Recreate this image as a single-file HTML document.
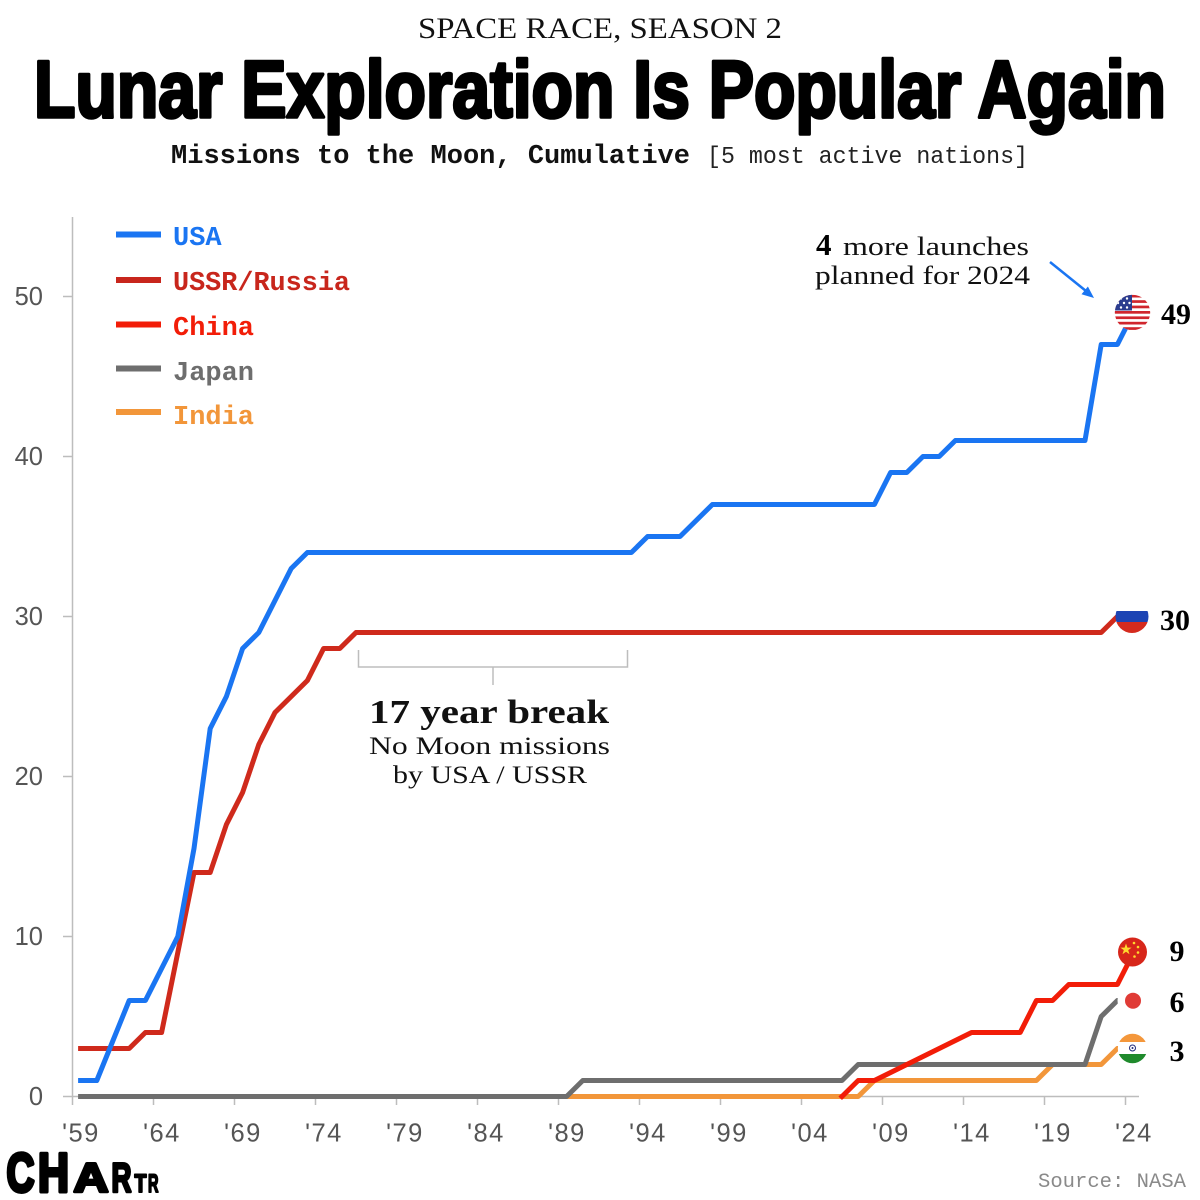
<!DOCTYPE html>
<html>
<head>
<meta charset="utf-8">
<style>
html,body{margin:0;padding:0;background:#fff;}
svg{display:block;}
</style>
</head>
<body>
<svg width="1200" height="1200" viewBox="0 0 1200 1200" xmlns="http://www.w3.org/2000/svg">
<rect width="1200" height="1200" fill="#fff"/>

<!-- Header -->
<text x="418" y="38" font-family="Liberation Serif, serif" font-size="30" fill="#111" textLength="364" lengthAdjust="spacingAndGlyphs">SPACE RACE, SEASON 2</text>
<text x="34" y="117" font-family="Liberation Sans, sans-serif" font-weight="bold" font-size="81" fill="#000" stroke="#000" stroke-width="3.6" stroke-linejoin="round" textLength="1132" lengthAdjust="spacingAndGlyphs">Lunar Exploration Is Popular Again</text>
<text x="171" y="163" font-family="Liberation Mono, monospace" font-weight="bold" font-size="27" fill="#111" textLength="519" lengthAdjust="spacingAndGlyphs">Missions to the Moon, Cumulative</text>
<text x="707" y="163" font-family="Liberation Mono, monospace" font-size="24" fill="#222" textLength="321" lengthAdjust="spacingAndGlyphs">[5 most active nations]</text>

<!-- Axes -->
<g stroke="#bdbdbd" stroke-width="1.5" fill="none">
<line x1="72.5" y1="217" x2="72.5" y2="1105"/>
<line x1="72.5" y1="1096.5" x2="1139" y2="1096.5"/>
<line x1="63" y1="1096.5" x2="72.5" y2="1096.5"/>
<line x1="63" y1="936.5" x2="72.5" y2="936.5"/>
<line x1="63" y1="776.5" x2="72.5" y2="776.5"/>
<line x1="63" y1="616.5" x2="72.5" y2="616.5"/>
<line x1="63" y1="456.5" x2="72.5" y2="456.5"/>
<line x1="63" y1="296.5" x2="72.5" y2="296.5"/>
<line x1="153.5" y1="1096.5" x2="153.5" y2="1105"/>
<line x1="234.5" y1="1096.5" x2="234.5" y2="1105"/>
<line x1="315.5" y1="1096.5" x2="315.5" y2="1105"/>
<line x1="396.5" y1="1096.5" x2="396.5" y2="1105"/>
<line x1="477.5" y1="1096.5" x2="477.5" y2="1105"/>
<line x1="558.5" y1="1096.5" x2="558.5" y2="1105"/>
<line x1="639.5" y1="1096.5" x2="639.5" y2="1105"/>
<line x1="720.5" y1="1096.5" x2="720.5" y2="1105"/>
<line x1="801.5" y1="1096.5" x2="801.5" y2="1105"/>
<line x1="882.5" y1="1096.5" x2="882.5" y2="1105"/>
<line x1="963.5" y1="1096.5" x2="963.5" y2="1105"/>
<line x1="1044.5" y1="1096.5" x2="1044.5" y2="1105"/>
<line x1="1125.5" y1="1096.5" x2="1125.5" y2="1105"/>
</g>

<!-- Y labels -->
<g font-family="Liberation Sans, sans-serif" font-size="25.5" fill="#555" text-anchor="end">
<text x="43" y="1105">0</text>
<text x="43" y="945">10</text>
<text x="43" y="785">20</text>
<text x="43" y="625">30</text>
<text x="43" y="465">40</text>
<text x="43" y="305">50</text>
</g>

<!-- X labels -->
<g font-family="Liberation Sans, sans-serif" font-size="25.5" fill="#555" text-anchor="middle" letter-spacing="1.5">
<text x="81" y="1141.5">'59</text>
<text x="162" y="1141.5">'64</text>
<text x="243" y="1141.5">'69</text>
<text x="324" y="1141.5">'74</text>
<text x="405" y="1141.5">'79</text>
<text x="486" y="1141.5">'84</text>
<text x="567" y="1141.5">'89</text>
<text x="648" y="1141.5">'94</text>
<text x="729" y="1141.5">'99</text>
<text x="810" y="1141.5">'04</text>
<text x="891" y="1141.5">'09</text>
<text x="972" y="1141.5">'14</text>
<text x="1053" y="1141.5">'19</text>
<text x="1134" y="1141.5">'24</text>
</g>

<!-- Legend -->
<g stroke-width="6">
<line x1="116" y1="234.5" x2="161" y2="234.5" stroke="#1a75f2"/>
<line x1="116" y1="280" x2="161" y2="280" stroke="#c8261c"/>
<line x1="116" y1="324.5" x2="161" y2="324.5" stroke="#f21d08"/>
<line x1="116" y1="368.5" x2="161" y2="368.5" stroke="#6e6e6e"/>
<line x1="116" y1="412" x2="161" y2="412" stroke="#f2963a"/>
</g>
<g font-family="Liberation Mono, monospace" font-weight="bold" font-size="27">
<text x="173" y="245" fill="#1a75f2">USA</text>
<text x="173" y="290" fill="#c8261c" textLength="177" lengthAdjust="spacingAndGlyphs">USSR/Russia</text>
<text x="173" y="335" fill="#f21d08">China</text>
<text x="173" y="380" fill="#6e6e6e">Japan</text>
<text x="173" y="424" fill="#f2963a">India</text>
</g>

<!-- Series -->
<g fill="none" stroke-width="5" stroke-linejoin="round" stroke-linecap="square">
<path stroke="#f2963a" d="M566.6,1096.5 L858.2,1096.5 L874.4,1080.5 L1036.4,1080.5 L1052.6,1064.5 L1101.2,1064.5 L1117.4,1048.5 L1133.6,1048.5"/>
<path stroke="#6e6e6e" d="M80.6,1096.5 L566.6,1096.5 L582.8,1080.5 L842,1080.5 L858.2,1064.5 L1085,1064.5 L1101.2,1016.5 L1117.4,1000.5 L1133.6,1000.5"/>
<path stroke="#f21d08" d="M842,1096.5 L858.2,1080.5 L874.4,1080.5 L971.6,1032.5 L1020.2,1032.5 L1036.4,1000.5 L1052.6,1000.5 L1068.8,984.5 L1117.4,984.5 L1133.6,952.5"/>
<path stroke="#cf2a1c" d="M80.6,1048.5 L129.2,1048.5 L145.4,1032.5 L161.6,1032.5 L177.8,952.5 L194,872.5 L210.2,872.5 L226.4,824.5 L242.6,792.5 L258.8,744.5 L275,712.5 L291.2,696.5 L307.4,680.5 L323.6,648.5 L339.8,648.5 L356,632.5 L1101.2,632.5 L1117.4,616.5 L1133.6,616.5"/>
<path stroke="#1a75f2" d="M80.6,1080.5 L96.8,1080.5 L113,1040.5 L129.2,1000.5 L145.4,1000.5 L161.6,968.5 L177.8,936.5 L194,848.5 L210.2,728.5 L226.4,696.5 L242.6,648.5 L258.8,632.5 L275,600.5 L291.2,568.5 L307.4,552.5 L631.4,552.5 L647.6,536.5 L680,536.5 L696.2,520.5 L712.4,504.5 L874.4,504.5 L890.6,472.5 L906.8,472.5 L923,456.5 L939.2,456.5 L955.4,440.5 L1085,440.5 L1101.2,344.5 L1117.4,344.5 L1133.6,312.5"/>
</g>

<defs>
<clipPath id="cUS"><circle cx="1132.5" cy="312.5" r="17.7"/></clipPath>
<clipPath id="cRU"><circle cx="1132" cy="616.5" r="16.5"/></clipPath>
<clipPath id="cIN"><circle cx="1132.5" cy="1048.5" r="14.7"/></clipPath>
</defs>

<!-- USA flag -->
<g clip-path="url(#cUS)">
<rect x="1113" y="294" width="40" height="38" fill="#fff"/>
<rect x="1113" y="294.8" width="40" height="2.7" fill="#d0262d"/>
<rect x="1113" y="300.2" width="40" height="2.7" fill="#d0262d"/>
<rect x="1113" y="305.6" width="40" height="2.7" fill="#d0262d"/>
<rect x="1113" y="311" width="40" height="2.7" fill="#d0262d"/>
<rect x="1113" y="316.4" width="40" height="2.7" fill="#d0262d"/>
<rect x="1113" y="321.8" width="40" height="2.7" fill="#d0262d"/>
<rect x="1113" y="327.2" width="40" height="2.7" fill="#d0262d"/>
<rect x="1113" y="294" width="19" height="16.5" fill="#2b3d8f"/>
<g fill="#fff">
<circle cx="1121" cy="298.5" r="1.2"/><circle cx="1127" cy="298.5" r="1.2"/>
<circle cx="1118" cy="303" r="1.2"/><circle cx="1124" cy="303" r="1.2"/><circle cx="1129.5" cy="303" r="1.2"/>
<circle cx="1121" cy="307.5" r="1.2"/><circle cx="1127" cy="307.5" r="1.2"/>
</g>
</g>

<!-- Russia flag -->
<g clip-path="url(#cRU)">
<rect x="1114" y="599" width="36" height="12" fill="#fff"/>
<rect x="1114" y="611" width="36" height="11" fill="#1c44b4"/>
<rect x="1114" y="622" width="36" height="12" fill="#d52b1e"/>
</g>

<!-- China flag -->
<circle cx="1132.5" cy="952" r="14.5" fill="#d7261a"/>
<polygon fill="#ffd92e" points="1126,943.5 1127.4,947.6 1131.6,947.6 1128.2,950.1 1129.5,954.2 1126,951.7 1122.5,954.2 1123.8,950.1 1120.4,947.6 1124.6,947.6"/>
<g fill="#ffd92e">
<circle cx="1134" cy="943" r="1.3"/><circle cx="1138" cy="947" r="1.3"/>
<circle cx="1138" cy="952.5" r="1.3"/><circle cx="1134.5" cy="956.5" r="1.3"/>
</g>

<!-- Japan flag -->
<circle cx="1133" cy="1000.5" r="15.5" fill="#fff"/>
<circle cx="1133" cy="1000.7" r="8" fill="#e03b36"/>

<!-- India flag -->
<g clip-path="url(#cIN)">
<rect x="1116" y="1032" width="34" height="10" fill="#f4973b"/>
<rect x="1116" y="1042" width="34" height="12" fill="#fff"/>
<rect x="1116" y="1054" width="34" height="11" fill="#1f8a2c"/>
<circle cx="1132.5" cy="1048" r="3" fill="none" stroke="#1f2a7a" stroke-width="1"/>
<circle cx="1132.5" cy="1048" r="1" fill="#1f2a7a"/>
</g>

<!-- End labels -->
<g font-family="Liberation Serif, serif" font-weight="bold" font-size="30" fill="#000" text-anchor="middle">
<text x="1176" y="324">49</text>
<text x="1175" y="630">30</text>
<text x="1177" y="961">9</text>
<text x="1177" y="1012">6</text>
<text x="1177" y="1061">3</text>
</g>

<!-- Annotation: 4 more launches -->
<text x="816" y="255" font-family="Liberation Serif, serif" font-weight="bold" font-size="31" fill="#000">4</text>
<text x="843" y="255" font-family="Liberation Serif, serif" font-size="26" fill="#111" textLength="186" lengthAdjust="spacingAndGlyphs">more launches</text>
<text x="815" y="284" font-family="Liberation Serif, serif" font-size="26" fill="#111" textLength="215" lengthAdjust="spacingAndGlyphs">planned for 2024</text>
<line x1="1050" y1="262" x2="1086" y2="291" stroke="#1a75f2" stroke-width="2.5"/>
<polygon points="1094,298 1081.5,294.3 1087.9,286.5" fill="#1a75f2"/>

<!-- Annotation: 17 year break -->
<g stroke="#bdbdbd" stroke-width="1.5" fill="none">
<polyline points="358.5,650 358.5,667 627.5,667 627.5,650"/>
<line x1="493" y1="667" x2="493" y2="685"/>
</g>
<text x="369" y="723" font-family="Liberation Serif, serif" font-weight="bold" font-size="34" fill="#111" textLength="240" lengthAdjust="spacingAndGlyphs">17 year break</text>
<text x="369" y="754" font-family="Liberation Serif, serif" font-size="25" fill="#111" textLength="241" lengthAdjust="spacingAndGlyphs">No Moon missions</text>
<text x="393" y="783" font-family="Liberation Serif, serif" font-size="25" fill="#111" textLength="194" lengthAdjust="spacingAndGlyphs">by USA / USSR</text>

<!-- Logo -->
<g font-family="Liberation Sans, sans-serif" font-weight="bold" fill="#000" stroke="#000" stroke-linejoin="round">
<text x="6.5" y="1191.5" font-size="55" stroke-width="4" textLength="28" lengthAdjust="spacingAndGlyphs">C</text>
<text x="38" y="1191.5" font-size="55" stroke-width="4" textLength="31" lengthAdjust="spacingAndGlyphs">H</text>
<text x="73.5" y="1191.5" font-size="41" stroke-width="3" textLength="35" lengthAdjust="spacingAndGlyphs">A</text>
<text x="111.5" y="1191.5" font-size="41" stroke-width="3" textLength="20" lengthAdjust="spacingAndGlyphs">R</text>
<text x="134.5" y="1192" font-size="25" stroke-width="2" textLength="12" lengthAdjust="spacingAndGlyphs">T</text>
<text x="148" y="1192" font-size="25" stroke-width="2" textLength="10.5" lengthAdjust="spacingAndGlyphs">R</text>
</g>

<!-- Source -->
<text x="1038" y="1187" font-family="Liberation Mono, monospace" font-size="20.5" fill="#8a8a8a" textLength="148" lengthAdjust="spacingAndGlyphs">Source: NASA</text>
</svg>
</body>
</html>
